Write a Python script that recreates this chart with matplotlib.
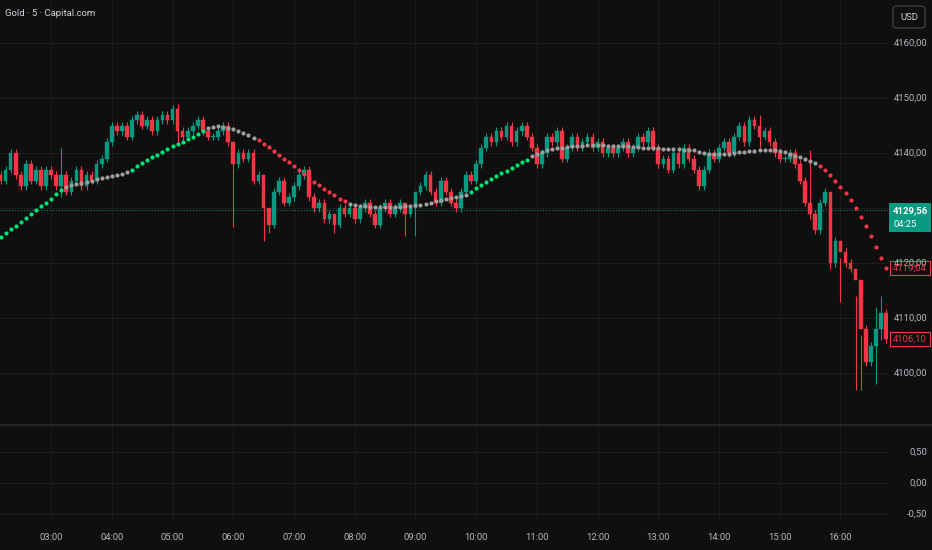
import matplotlib
matplotlib.use("Agg")
import matplotlib.pyplot as plt
from matplotlib.patches import Rectangle, FancyBboxPatch

plt.rcParams['font.family'] = ['Roboto', 'DejaVu Sans']

closes = [4135,4137,4140,4136,4134,4138,4135,4137,4134,4137,
 4136,4134,4136,4133,4135,4137,4134,4136,4135,4138,4139,4142,
 4145,4144,4145,4143,4146,4147,4145,4146,4144,4146,4147,4146,
 4148,4144,4143,4144,4145,4146,4144,4143,4143,4144,4145,4142,
 4138,4140,4139,4140,4135,4136,4130,4127,4133,4135,4131,4132,
 4134,4136,4137,4132,4130,4131,4128,4129,4127,4130,4129,4130,
 4128,4130,4131,4129,4127,4130,4131,4129,4130,4131,4129,4130,
 4133,4134,4136,4133,4131,4135,4133,4131,4130,4133,4136,4135,
 4138,4141,4143,4142,4144,4143,4145,4142,4144,4145,4143,4141,
 4138,4140,4143,4142,4144,4139,4141,4143,4141,4142,4143,4141,
 4142,4140,4141,4140,4141,4142,4140,4141,4143,4142,4144,4141,
 4138,4139,4137,4140,4138,4141,4139,4137,4134,4137,4140,4139,
 4141,4142,4140,4143,4145,4142,4146,4145,4143,4144,4142,4140,
 4139,4139,4140,4138,4135,4131,4129,4126,4131,4133,4120,4124,
 4122,4120,4119,4117,4108,4102,4105,4108,4111,4106.1]
first_open = 4136
# notable wicks: index -> (high, low)
wicks = {12: (4141, 4132), 35: (4149, 4142), 46: (4139, 4126.5), 52: (4131, 4124),
         53: (4130, 4125.5), 66: (4129, 4125.5), 80: (4131, 4125), 82: (4131, 4125),
         150: (4147, 4141), 160: (4140.5, 4128), 164: (4126, 4119), 166: (4121, 4113),
         169: (4114, 4097), 170: (4107, 4097), 173: (4112, 4098), 174: (4114, 4106)}

sar_green1 = [4124.7,4125.4,4126.1,4126.8,4127.5,4128.2,4128.9,4129.6,4130.3,4131.0,4131.7,4132.5,4133.2]
sar_gray1 = [4133.8,4134.1,4134.3,4134.6,4134.8,4135.0,4135.2,4135.4,4135.6,4135.8,4136.0,4136.2,4136.5]
sar_green2 = [4137.0,4137.6,4138.2,4138.7,4139.2,4139.7,4140.2,4140.7,4141.2,4141.6,4142.0,4142.5,4143.0,4143.5,4144.0]
sar_gray2 = [4144.5,4144.8,4144.9,4144.8,4144.6,4144.3,4144.0,4143.6,4143.2,4142.8]
sar_red1 = [4142.3,4141.7,4141.1,4140.4,4139.7,4139.0,4138.3,4137.6,4136.9,4136.2,4135.5,4134.8,4134.1,4133.5,4132.9,4132.3,4131.7,4131.2]
sar_gray3 = [4130.8,4130.6,4130.4,4130.3,4130.2,4130.2,4130.1,4130.1,4130.1,4130.2,4130.2,4130.3,4130.4,4130.5,4130.6,4130.8,4131.0,4131.2,4131.4,4131.6,4131.8,4132.0,4132.2,4132.4]
sar_green3 = [4133.0,4133.6,4134.2,4134.8,4135.3,4135.8,4136.3,4136.8,4137.3,4137.8,4138.3,4138.8]
sar_gray4 = [4139.5,4139.9,4140.2,4140.5,4140.7,4140.9,4141.0,4141.1,4141.2,4141.3,4141.3,4141.4,4141.4,4141.4,4141.4,4141.3,4141.3,4141.3,4141.2,4141.2,4141.1,4141.1,4141.0,4141.0,4140.9,4140.9,4140.8,4140.8,4140.7,4140.7,4140.6,4140.6,4140.5]
sar_gray5 = [4140.2,4140.0,4139.9,4139.8,4139.8,4139.8,4139.9,4140.0,4140.1,4140.2,4140.3,4140.4,4140.5,4140.6,4140.6,4140.5,4140.3,4140.1,4139.8,4139.5,4139.2,4138.9,4138.6,4138.2]
sar_red2 = [4137.6,4136.9,4136.0,4135.0,4133.9,4132.7,4131.4,4130.0,4128.4,4126.7,4124.9,4123.0,4121.0,4119.04]

time_labels = ["03:00","04:00","05:00","06:00","07:00","08:00","09:00","10:00","11:00","12:00","13:00","14:00","15:00","16:00"]
price_ticks = [4100, 4110, 4120, 4130, 4140, 4150, 4160]
shown_price_labels = [4100, 4110, 4120, 4140, 4150, 4160]
osc_ticks = [0.5, 0.0, -0.5]
last_price = 4129.56
countdown = "04:25"
sar_last = 4119.04
close_last = 4106.10

BG = "#0f0f0f"; GRID = "#1c1c1c"; TXT = "#b2b5be"
UP = "#089981"; DN = "#f23645"
FS = 6.8
W, H = 932, 550
fig = plt.figure(figsize=(W/100, H/100), dpi=100, facecolor=BG)
axp = fig.add_axes([0, 1-425/H, 888/W, 425/H], facecolor=BG)
axo = fig.add_axes([0, 1-522/H, 888/W, 96/H], facecolor=BG)

n = len(closes)
opens = [first_open] + closes[:-1]
for i in range(n):
    o, c = opens[i], closes[i]
    hi, lo = wicks.get(i, (max(o, c) + 0.7, min(o, c) - 0.7))
    col = UP if c >= o else DN
    axp.vlines(i, lo, hi, color=col, lw=0.8, zorder=3)
    axp.add_patch(Rectangle((i-0.36, min(o, c)), 0.72, max(abs(c-o), 0.15),
                            facecolor=col, edgecolor=col, lw=0.3, zorder=4))

segs = [(sar_green1,"#00e676"),(sar_gray1,"#9e9e9e"),(sar_green2,"#00e676"),(sar_gray2,"#9e9e9e"),
        (sar_red1,DN),(sar_gray3,"#9e9e9e"),(sar_green3,"#00e676"),(sar_gray4,"#9e9e9e"),
        (sar_gray5,"#9e9e9e"),(sar_red2,DN)]
start = 0
for vals, col in segs:
    axp.scatter(range(start, start+len(vals)), vals, s=9, color=col, zorder=5, lw=0)
    start += len(vals)

xl = (-0.1, 888/5.06 - 0.1)
ymin = 4140 - (425-153)/5.5
ymax = 4140 + 153/5.5
axp.set_xlim(*xl); axp.set_ylim(ymin, ymax)
axo.set_xlim(*xl); axo.set_ylim(-0.5-(522-514)/62, 0.5+(452-426)/62)

hour_x = [10 + 12*k for k in range(len(time_labels))]
for ax, yt in ((axp, price_ticks), (axo, osc_ticks)):
    for x in hour_x:
        ax.axvline(x, color=GRID, lw=0.8, zorder=0)
    for y in yt:
        ax.axhline(y, color=GRID, lw=0.8, zorder=0)
    ax.set_xticks([]); ax.set_yticks([])
    for s in ax.spines.values():
        s.set_visible(False)
axp.axhline(last_price, color=UP, lw=0.7, ls=(0, (1, 2)), zorder=2)

def ypix(v, lo, hi, top, bot):
    return top + (hi - v)/(hi - lo)*(bot - top)

for v in shown_price_labels:
    y = ypix(v, ymin, ymax, 0, 425)
    fig.text(927/W, 1-y/H, f"{v:.2f}".replace(".", ","), color=TXT, fontsize=FS, va="center", ha="right")
olo, ohi = axo.get_ylim()
for v in osc_ticks:
    y = ypix(v, olo, ohi, 426, 522)
    fig.text(927/W, 1-y/H, f"{v:.2f}".replace(".", ","), color=TXT, fontsize=FS, va="center", ha="right")
for x, lab in zip(hour_x, time_labels):
    px = (x + 0.1) * 5.06
    fig.text(px/W, 1-537/H, lab, color=TXT, fontsize=FS, va="center", ha="center")

fig.add_artist(plt.Line2D([0, 1], [1-425/H, 1-425/H], color="#2a2a2a", lw=1.2))

# labels on price scale
yl = ypix(last_price, ymin, ymax, 0, 425)
fig.add_artist(Rectangle((889/W, 1-(yl+22)/H), 42/W, 29/H, facecolor="#089981", edgecolor="none"))
fig.text(910/W, 1-(yl)/H, f"{last_price:.2f}".replace(".", ","), color="white", fontsize=FS, ha="center", va="center", weight="bold")
fig.text(893/W, 1-(yl+14)/H, countdown, color="white", fontsize=FS, ha="left", va="center")
for v in (sar_last, close_last):
    y = ypix(v, ymin, ymax, 0, 425)
    fig.add_artist(Rectangle((890/W, 1-(y+7)/H), 40/W, 14/H, facecolor=BG, edgecolor=DN, lw=0.8))
    fig.text(910/W, 1-y/H, f"{v:.2f}".replace(".", ","), color=DN, fontsize=FS, ha="center", va="center")

fig.text(5/W, 1-14/H, "Gold · 5 · Capital.com", color="#d1d4dc", fontsize=FS, va="center")
fig.add_artist(FancyBboxPatch((893/W, 1-28/H), 32/W, 22/H, boxstyle="round,pad=0,rounding_size=0.005",
                              facecolor=BG, edgecolor="#4a4a4a", lw=0.8))
fig.text(909/W, 1-17/H, "USD", color="#d1d4dc", fontsize=FS, ha="center", va="center")

fig.savefig("out.png", dpi=100, facecolor=BG)
